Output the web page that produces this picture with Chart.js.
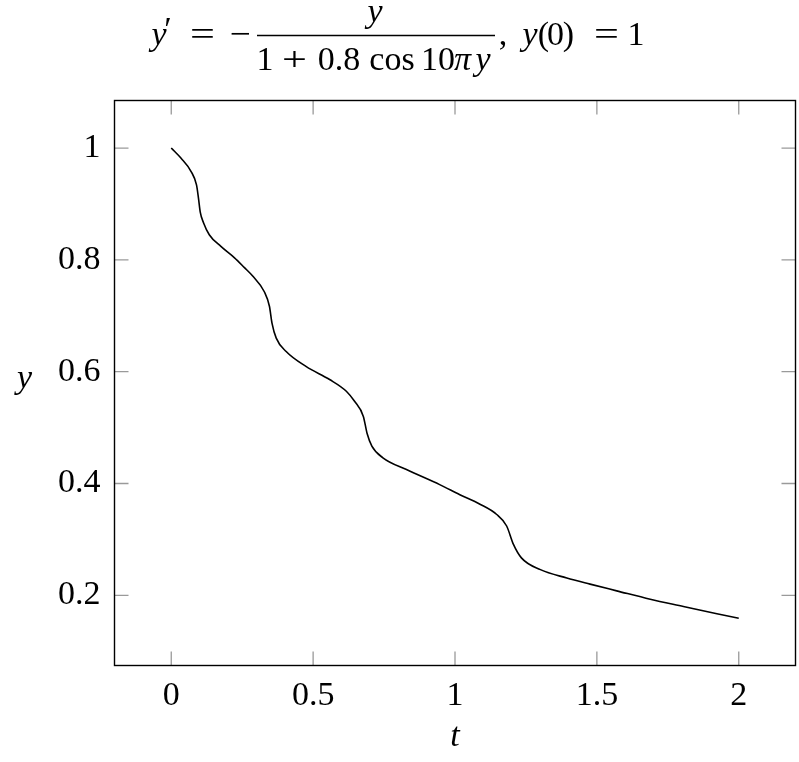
<!DOCTYPE html>
<html>
<head>
<meta charset="utf-8">
<script src="https://cdn.jsdelivr.net/npm/chart.js@4.4.1/dist/chart.umd.min.js"></script>
<style>
  html, body { margin: 0; padding: 0; background: #fff; }
  #wrap { width: 799px; height: 762px; }
</style>
</head>
<body>
<div id="wrap"><canvas id="mycanvas" width="799" height="762"></canvas></div>
<script>
// values
var tValues = [0, 0.034, 0.070, 0.089, 0.096, 0.102, 0.114, 0.134, 0.175, 0.222,
               0.258, 0.287, 0.328, 0.346, 0.355, 0.370, 0.405, 0.476, 0.558, 0.617,
               0.646, 0.677, 0.690, 0.707, 0.746, 0.829, 0.946, 1.017, 1.088, 1.146,
               1.182, 1.206, 1.234, 1.301, 1.394, 1.476, 1.570, 1.688, 1.805, 1.923, 2.000];
var yValues = [1.000, 0.982, 0.958, 0.934, 0.910, 0.886, 0.866, 0.845, 0.824, 0.804,
               0.786, 0.771, 0.743, 0.717, 0.687, 0.660, 0.636, 0.609, 0.586, 0.565,
               0.547, 0.520, 0.490, 0.467, 0.446, 0.425, 0.398, 0.380, 0.363, 0.345,
               0.324, 0.291, 0.267, 0.246, 0.231, 0.220, 0.208, 0.193, 0.180, 0.167, 0.159];
var xTicks = [0, 0.5, 1, 1.5, 2];
var yTicks = [0.2, 0.4, 0.6, 0.8, 1];

var serif = "'Liberation Serif', 'DejaVu Serif', serif";

var points = [];
for (var i in tValues) {
    points.push({x: tValues[i], y: yValues[i]});
}

// frame, inward ticks on all four sides, title and y label
var framePlugin = {
    id: 'frame',
    afterDraw: function(chart) {
        var ctx = chart.ctx;
        var a = chart.chartArea;
        var xs = chart.scales.x, ys = chart.scales.y;
        var len = 14;
        ctx.save();
        ctx.strokeStyle = '#9a9a9a';
        ctx.lineWidth = 1.3;
        ctx.beginPath();
        xTicks.forEach(function(v) {
            var px = xs.getPixelForValue(v);
            ctx.moveTo(px, a.bottom); ctx.lineTo(px, a.bottom - len);
            ctx.moveTo(px, a.top); ctx.lineTo(px, a.top + len);
        });
        yTicks.forEach(function(v) {
            var py = ys.getPixelForValue(v);
            ctx.moveTo(a.left, py); ctx.lineTo(a.left + len, py);
            ctx.moveTo(a.right, py); ctx.lineTo(a.right - len, py);
        });
        ctx.stroke();

        ctx.strokeStyle = '#000';
        ctx.lineWidth = 1.4;
        ctx.strokeRect(a.left, a.top, a.right - a.left, a.bottom - a.top);

        // title: y' = - y / (1 + 0.8 cos 10 pi y), y(0) = 1
        ctx.fillStyle = '#000';
        ctx.textAlign = 'center';
        ctx.textBaseline = 'alphabetic';
        function put(txt, cx, base, italic, size, sx) {
            ctx.save();
            ctx.font = (italic ? 'italic ' : '') + (size || 34) + 'px ' + serif;
            ctx.translate(cx, base);
            ctx.scale(sx || 1, 1);
            ctx.fillText(txt, 0, 0);
            ctx.restore();
        }
        put('y', 159, 45, true);
        put('\u2032', 168, 40, false);
        put('=', 202.5, 45, false, 34, 1.3);
        put('\u2212', 240, 45, false, 34, 1.1);
        put('y', 375, 22, true);
        ctx.beginPath();
        ctx.moveTo(257, 35.5); ctx.lineTo(495, 35.5);
        ctx.stroke();
        put('1', 265, 70, false);
        put('+', 294.5, 70, false, 34, 1.3);
        put('0.8', 339, 70, false);
        put('cos', 392, 70, false);
        put('10', 438, 70, false);
        put('\u03c0', 462.5, 70, true);
        put('y', 483, 70, true);
        put(',', 503, 45, false);
        put('y', 530, 45, true);
        put('(', 543.5, 45, false);
        put('0', 555.5, 45, false);
        put(')', 568.5, 45, false);
        put('=', 606.5, 45, false, 34, 1.3);
        put('1', 636, 45, false);

        put('y', 24.5, 388, true);
        ctx.restore();
    }
};

var ctx = document.getElementById('mycanvas');
var chart = new Chart(ctx, {
    type: 'line',
    data: {
        datasets: [{
            data: points,
            borderColor: '#000',
            borderWidth: 1.6,
            pointRadius: 0,
            fill: false,
            cubicInterpolationMode: 'monotone'
        }]
    },
    options: {
        responsive: false,
        animation: false,
        layout: { padding: { top: 100.5, right: 3.5, left: 0, bottom: 0 } },
        plugins: { legend: { display: false }, tooltip: { enabled: false } },
        scales: {
            x: {
                type: 'linear',
                min: -0.2,
                max: 2.2,
                afterBuildTicks: function(axis) { axis.ticks = xTicks.map(function(v) { return {value: v}; }); },
                afterFit: function(axis) { axis.height = 96.5; },
                grid: { display: false, drawTicks: false },
                border: { display: false },
                ticks: {
                    color: '#000',
                    padding: 10,
                    maxRotation: 0,
                    font: { family: serif, size: 34 },
                    callback: function(v) { return String(v); }
                },
                title: {
                    display: true,
                    text: 't',
                    color: '#000',
                    padding: { top: 0, bottom: 5 },
                    font: { family: serif, size: 34, style: 'italic' }
                }
            },
            y: {
                type: 'linear',
                min: 0.0745,
                max: 1.085,
                afterBuildTicks: function(axis) { axis.ticks = yTicks.map(function(v) { return {value: v}; }); },
                afterFit: function(axis) { axis.width = 114.5; },
                grid: { display: false, drawTicks: false },
                border: { display: false },
                ticks: {
                    color: '#000',
                    padding: 14,
                    font: { family: serif, size: 34 },
                    callback: function(v) { return String(v); }
                }
            }
        }
    },
    plugins: [framePlugin]
});
</script>
</body>
</html>
